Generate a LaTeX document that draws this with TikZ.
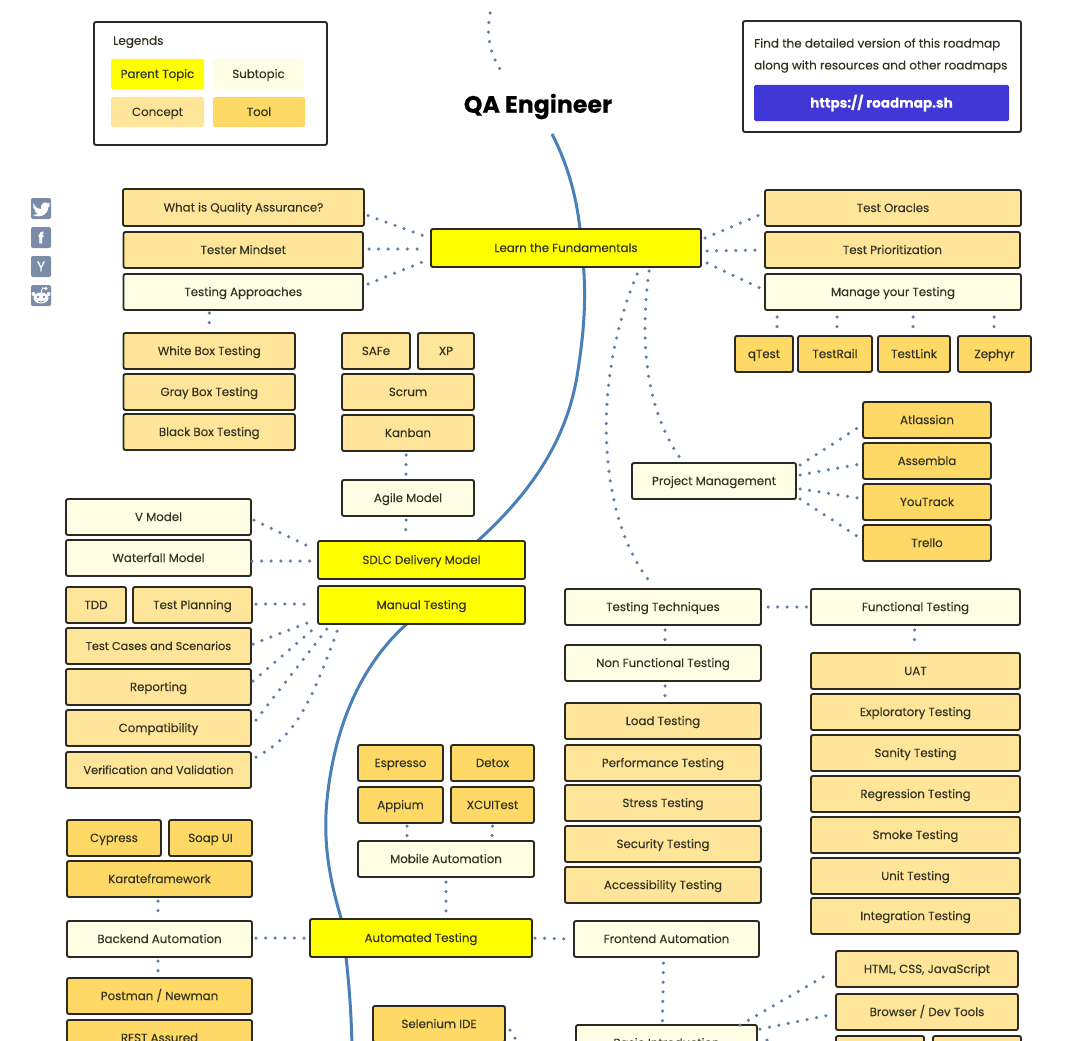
\documentclass[tikz,border=0pt]{standalone}
\usepackage{fontspec}
\setmainfont{Poppins}[FakeBold=0.2]
\usetikzlibrary{calc}
\definecolor{txt}{HTML}{333322}
\definecolor{edge}{HTML}{2A2A22}
\definecolor{ptopic}{HTML}{FFFF00}
\definecolor{stopic}{HTML}{FFFDE3}
\definecolor{cpt}{HTML}{FFE59A}
\definecolor{tl}{HTML}{FFD966}
\definecolor{road}{HTML}{4A80B8}
\definecolor{dotc}{HTML}{5F7FA6}
\definecolor{btn}{HTML}{4136D6}
\definecolor{ico}{HTML}{7A8CA8}
\tikzset{
  boxbase/.style={rectangle,rounded corners=2pt,draw=edge,line width=1.9pt,inner sep=0pt,text=txt,font=\fontsize{11.8}{13}\selectfont,outer sep=0pt,text height=9pt,text depth=1pt},
  parent/.style={boxbase,fill=ptopic},
  subt/.style={boxbase,fill=stopic},
  concept/.style={boxbase,fill=cpt},
  tool/.style={boxbase,fill=tl},
  lgparent/.style={boxbase,draw=none,fill=ptopic},
  lgsub/.style={boxbase,draw=none,fill=stopic},
  lgconcept/.style={boxbase,draw=none,fill=cpt},
  lgtool/.style={boxbase,draw=none,fill=tl},
  framebox/.style={boxbase,fill=white},
  dots/.style={draw=dotc,line width=3.5pt,line cap=round,dash pattern=on 0pt off 9.6pt},
  roadline/.style={draw=road,line width=3pt},
  label/.style={inner sep=0pt,anchor=west,text=txt,font=\fontsize{12}{13}\selectfont},
  icon/.style={rectangle,rounded corners=2pt,fill=ico,text=white,inner sep=0pt,minimum width=20pt,minimum height=21pt,font=\fontsize{15}{15}\bfseries\selectfont},
}
\newcommand{\bx}[7]{%
  \pgfmathsetmacro{\cxx}{(#3+#5)/2}%
  \pgfmathsetmacro{\cyy}{(#4+#6)/2}%
  \pgfmathsetmacro{\ww}{#5-#3}%
  \pgfmathsetmacro{\hh}{#6-#4}%
  \node[#1,minimum width=\ww pt,minimum height=\hh pt] (#2) at (\cxx,\cyy) {#7};}
\begin{document}
\begin{tikzpicture}[x=1pt,y=-1pt]
\useasboundingbox (0,0) rectangle (1080,1041);
\clip (0,0) rectangle (1080,1041);
\fill[white] (0,0) rectangle (1080,1041);

% main road
\coordinate (r1) at (552,134);
\coordinate (r2) at (581,240);
\coordinate (r3) at (578,370);
\coordinate (r4) at (472,546);
\coordinate (r5) at (409,622);
\coordinate (r6) at (327,800);
\coordinate (r7) at (341,918);
\coordinate (r8) at (352,1046);
\draw[roadline] (r1) .. controls (568,165) and (578,200) .. (r2) .. controls (587,290) and (585,325) .. (r3) .. controls (568,440) and (530,495) .. (r4);
\draw[roadline] (r5) .. controls (365,660) and (335,720) .. (r6) .. controls (322,850) and (333,890) .. (r7) .. controls (347,960) and (351,1000) .. (r8);

% legend
\bx{framebox}{legend}{94}{22}{327}{145}{}
\node[label] (lgt) at (113,42) {Legends};
\bx{lgparent}{lg1}{111}{59}{204}{89}{Parent Topic}
\bx{lgsub}{lg2}{213}{59}{304}{89}{Subtopic}
\bx{lgconcept}{lg3}{111}{97}{204}{127}{Concept}
\bx{lgtool}{lg4}{213}{97}{305}{127}{Tool}

% info box
\bx{framebox}{info}{743}{21}{1021}{132}{}
\node[label] (i1) at (754,44.5) {Find the detailed version of this roadmap};
\node[label] (i2) at (754,66.5) {along with resources and other roadmaps};
\node[rectangle,rounded corners=1.5pt,fill=btn,text=white,inner sep=0pt,minimum width=255pt,minimum height=36pt,font=\fontsize{13.6}{15}\bfseries\selectfont] (btnlink) at (881.5,103) {https:// roadmap.sh};

% title
\node[inner sep=0pt,text=black,font=\fontsize{23.7}{26}\bfseries\selectfont] (title) at (538,106.5) {QA Engineer};

% social icons
\node[icon] (tw) at (41,208.5) {};
\node[icon] (fb) at (41,237.5) {f};
\node[icon,font=\fontsize{14}{14}\selectfont] (yc) at (41,266.5) {Y};
\node[icon] (rd) at (41,295.5) {};
\fill[white] (33,203) .. controls (35,207) and (38,209) .. (41,209) .. controls (40,205) and (44,200) .. (48,203.5) -- (50,202.5) -- (49,205) -- (50,205) -- (48.5,207) .. controls (48.5,213) and (42,219) .. (32.5,215) .. controls (35,215) and (37,214.5) .. (38,213.5) .. controls (36,213) and (35,212) .. (34.5,210.5) -- (36,210.5) .. controls (34,209.5) and (33,208) .. (33,206.5) -- (34.5,207) .. controls (33,205.5) and (32.5,204.5) .. (33,203) -- cycle;
\fill[white] (41,298) ellipse (7.5pt and 5.5pt);
\fill[white] (33.5,294) circle (2pt) (48.5,294) circle (2pt) (46,288.5) circle (1.6pt);
\draw[white,line width=1pt] (41,293) -- (42.5,288) -- (46,288.5);
\fill[ico] (38,297) circle (1.4pt) (44,297) circle (1.4pt);
\draw[ico,line width=.8pt] (38,301) .. controls (40,302.5) and (42,302.5) .. (44,301);

% top left group
\bx{concept}{wq}{123}{189}{364}{226}{What is Quality Assurance?}
\bx{concept}{tm}{123.5}{232}{363}{268}{Tester Mindset}
\bx{subt}{ta}{123.5}{274}{363}{310}{Testing Approaches}
\bx{concept}{wb}{123.5}{333}{295}{369}{White Box Testing}
\bx{concept}{gb}{123.5}{374}{295}{410}{Gray Box Testing}
\bx{concept}{bb}{123.5}{414}{295}{450}{Black Box Testing}
\bx{concept}{safe}{342}{333}{410}{369}{SAFe}
\bx{concept}{xp}{418}{333}{474}{369}{XP}
\bx{concept}{scrum}{342}{374}{474}{410}{Scrum}
\bx{concept}{kanban}{342}{415}{474}{451}{Kanban}
\bx{subt}{agile}{342}{480}{474}{516}{Agile Model}
\bx{parent}{lf}{431}{229}{701}{267}{Learn the Fundamentals}

% top right group
\bx{concept}{to}{765}{190}{1021}{226}{Test Oracles}
\bx{concept}{tp}{765}{232}{1020}{268}{Test Prioritization}
\bx{subt}{mt}{765}{274}{1021}{310}{Manage your Testing}
\bx{tool}{qt}{735}{336}{793}{372}{qTest}
\bx{tool}{trl}{798}{336}{872}{372}{TestRail}
\bx{tool}{tlk}{878}{336}{950}{372}{TestLink}
\bx{tool}{zp}{958}{336}{1031}{372}{Zephyr}
\bx{subt}{pm}{632}{463}{796}{499}{Project Management}
\bx{tool}{atl}{863}{402}{991}{438}{Atlassian}
\bx{tool}{asm}{863}{443}{991}{479}{Assembla}
\bx{tool}{yt}{863}{484}{991}{520}{YouTrack}
\bx{tool}{tre}{863}{525}{991}{561}{Trello}

% left column
\bx{subt}{vm}{66}{499}{251}{535}{V Model}
\bx{subt}{wf}{66}{540}{251}{576}{Waterfall Model}
\bx{concept}{tdd}{66}{587}{126}{623}{TDD}
\bx{concept}{tpl}{133}{587}{252}{623}{Test Planning}
\bx{concept}{tc}{66}{628}{251}{664}{\fontsize{11.3}{13}\selectfont Test Cases and Scenarios}
\bx{concept}{rep}{66}{669}{251}{705}{Reporting}
\bx{concept}{com}{66}{710}{251}{746}{Compatibility}
\bx{concept}{vv}{66}{752}{251}{788}{\fontsize{11.3}{13}\selectfont Verification and Validation}
\bx{parent}{sdlc}{318}{541}{525}{579}{SDLC Delivery Model}
\bx{parent}{man}{318}{586}{525}{624}{Manual Testing}

% testing techniques
\bx{subt}{tt}{565}{589}{761}{625}{Testing Techniques}
\bx{subt}{nf}{565}{645}{761}{681}{Non Functional Testing}
\bx{concept}{load}{565}{703}{761}{739}{Load Testing}
\bx{concept}{perf}{565}{745}{761}{781}{Performance Testing}
\bx{concept}{str}{565}{785}{761}{821}{Stress Testing}
\bx{concept}{sec}{565}{826}{761}{862}{Security Testing}
\bx{concept}{acc}{565}{867}{761}{903}{Accessibility Testing}
\bx{subt}{fn}{811}{589}{1020}{625}{Functional Testing}
\bx{concept}{uat}{811}{653}{1020}{689}{UAT}
\bx{concept}{expl}{811}{694}{1020}{730}{Exploratory Testing}
\bx{concept}{san}{811}{735}{1020}{771}{Sanity Testing}
\bx{concept}{reg}{811}{776}{1020}{812}{Regression Testing}
\bx{concept}{smk}{811}{817}{1020}{853}{Smoke Testing}
\bx{concept}{unit}{811}{858}{1020}{894}{Unit Testing}
\bx{concept}{integ}{811}{898}{1020}{934}{Integration Testing}

% automation
\bx{tool}{esp}{358}{745}{443}{781}{Espresso}
\bx{tool}{det}{451}{745}{534}{781}{Detox}
\bx{tool}{app}{358}{787}{443}{823}{Appium}
\bx{tool}{xcui}{451}{787}{534}{823}{XCUITest}
\bx{subt}{mob}{358}{841}{534}{877}{Mobile Automation}
\bx{tool}{cyp}{67}{820}{161}{856}{Cypress}
\bx{tool}{soap}{169}{820}{252}{856}{Soap UI}
\bx{tool}{kar}{67}{861}{252}{897}{Karateframework}
\bx{subt}{be}{67}{921}{252}{957}{Backend Automation}
\bx{tool}{post}{67}{978}{252}{1014}{Postman / Newman}
\bx{tool}{rest}{67}{1020}{252}{1056}{REST Assured}
\bx{parent}{auto}{310}{919}{532}{957}{Automated Testing}
\bx{subt}{fe}{574}{921}{759}{957}{Frontend Automation}
\bx{tool}{sel}{373}{1006}{505}{1042}{Selenium IDE}
\bx{subt}{basic}{576}{1025}{757}{1061}{Basic Introduction}
\bx{concept}{html}{836}{951}{1018}{987}{HTML, CSS, JavaScript}
\bx{concept}{dev}{836}{994}{1018}{1030}{Browser / Dev Tools}
\bx{concept}{b1}{836}{1036}{924}{1072}{}
\bx{concept}{b2}{933}{1036}{1021}{1072}{}

% free ends
\coordinate (topa) at (490,13);
\coordinate (topb) at (502,72);
\coordinate (selend) at (520,1046);
\coordinate (basend) at (785,1046);

% dotted connectors
\draw[dots] (topa) .. controls (486,35) and (490,55) .. (topb);
\draw[dots] ($(wq.east)+(4,8)$) -- ($(lf.west)+(-4,-11)$);
\draw[dots] ($(tm.east)+(6,-1)$) -- ($(lf.west)+(-7,1)$);
\draw[dots] ($(ta.east)+(5,-8)$) -- ($(lf.west)+(-6,13)$);
\draw[dots] ($(ta.south)+(-34,3)$) -- ($(wb.north)+(0,-8)$);
\draw[dots] ($(kanban.south)+(-2,4)$) -- ($(agile.north)+(-2,-4)$);
\draw[dots] ($(agile.south)+(-2,4)$) -- ($(sdlc.north)+(-16,-3)$);
\draw[dots] ($(lf.east)+(4,-10)$) -- ($(to.west)+(-3,6)$);
\draw[dots] ($(lf.east)+(6,3)$) -- ($(tp.west)+(-3,0)$);
\draw[dots] ($(lf.east)+(6,15)$) -- ($(mt.west)+(-3,-3)$);
\draw[dots] ($(mt.south)+(-116,7)$) -- ($(qt.north)+(13,-6)$);
\draw[dots] ($(mt.south)+(-56,7)$) -- ($(trl.north)+(2,-6)$);
\draw[dots] ($(mt.south)+(20,7)$) -- ($(tlk.north)+(-1,-6)$);
\draw[dots] ($(mt.south)+(101,7)$) -- ($(zp.north)+(-0.5,-6)$);
\draw[dots] ($(lf.south)+(83,4)$) .. controls (642,325) and (640,400) .. ($(pm.north)+(-34,-5)$);
\draw[dots] ($(lf.south)+(71,7)$) .. controls (585,400) and (605,530) .. ($(tt.north)+(-11,-5)$);
\draw[dots] ($(pm.east)+(4,-16)$) -- ($(atl.west)+(-4,7)$);
\draw[dots] ($(pm.east)+(4,-6)$) -- ($(asm.west)+(-3,3)$);
\draw[dots] ($(pm.east)+(4,8)$) -- ($(yt.west)+(-5,-4)$);
\draw[dots] ($(pm.east)+(4,18)$) -- ($(tre.west)+(-3,-5)$);
\draw[dots] ($(vm.east)+(3,3)$) -- ($(sdlc.west)+(-4,-11)$);
\draw[dots] ($(wf.east)+(1,3)$) -- ($(sdlc.west)+(-3,1)$);
\draw[dots] ($(tpl.east)+(4,-1)$) -- ($(man.west)+(-6,-1)$);
\draw[dots] ($(tc.east)+(2,-2)$) -- ($(man.south west)+(-6,-3)$);
\draw[dots] ($(rep.east)+(2,-6)$) -- ($(man.south west)+(0,1)$);
\draw[dots] ($(com.east)+(5,-8)$) -- ($(man.south west)+(12,1)$);
\draw[dots] ($(vv.east)+(5,-13)$) .. controls (300,735) and (315,690) .. ($(man.south west)+(20,5)$);
\draw[dots] ($(tt.east)+(7,0)$) -- ($(fn.west)+(-3,0)$);
\draw[dots] ($(tt.south)+(2,5)$) -- ($(nf.north)+(2,-5)$);
\draw[dots] ($(nf.south)+(2,5)$) -- ($(load.north)+(2,-5)$);
\draw[dots] ($(fn.south)+(-1,5)$) -- ($(uat.north)+(-1,-5)$);
\draw[dots] ($(app.south)+(6.5,3)$) -- ($(mob.north)+(-39,-3)$);
\draw[dots] ($(xcui.south)+(0,3)$) -- ($(mob.north)+(46,-3)$);
\draw[dots] ($(mob.south)+(0,5)$) -- ($(auto.north)+(25,-3)$);
\draw[dots] ($(kar.south)+(-1.5,4)$) -- ($(be.north)+(-1.5,-4)$);
\draw[dots] ($(be.south)+(-1.5,4)$) -- ($(post.north)+(-1.5,-3)$);
\draw[dots] ($(be.east)+(4,-1)$) -- ($(auto.west)+(-3,0)$);
\draw[dots] ($(auto.east)+(3,0)$) -- ($(fe.west)+(-7,0)$);
\draw[dots] ($(fe.south)+(-3,6)$) -- ($(basic.north)+(-4,-4)$);
\draw[dots] ($(basic.north east)+(-17,0)$) -- ($(html.west)+(-6,4)$);
\draw[dots] ($(basic.north east)+(3,4)$) -- ($(dev.west)+(-6,3)$);
\draw[dots] ($(basic.north east)+(10,15)$) -- (basend);
\draw[dots] ($(sel.south east)+(5,-12)$) -- (selend);
\end{tikzpicture}
\end{document}
